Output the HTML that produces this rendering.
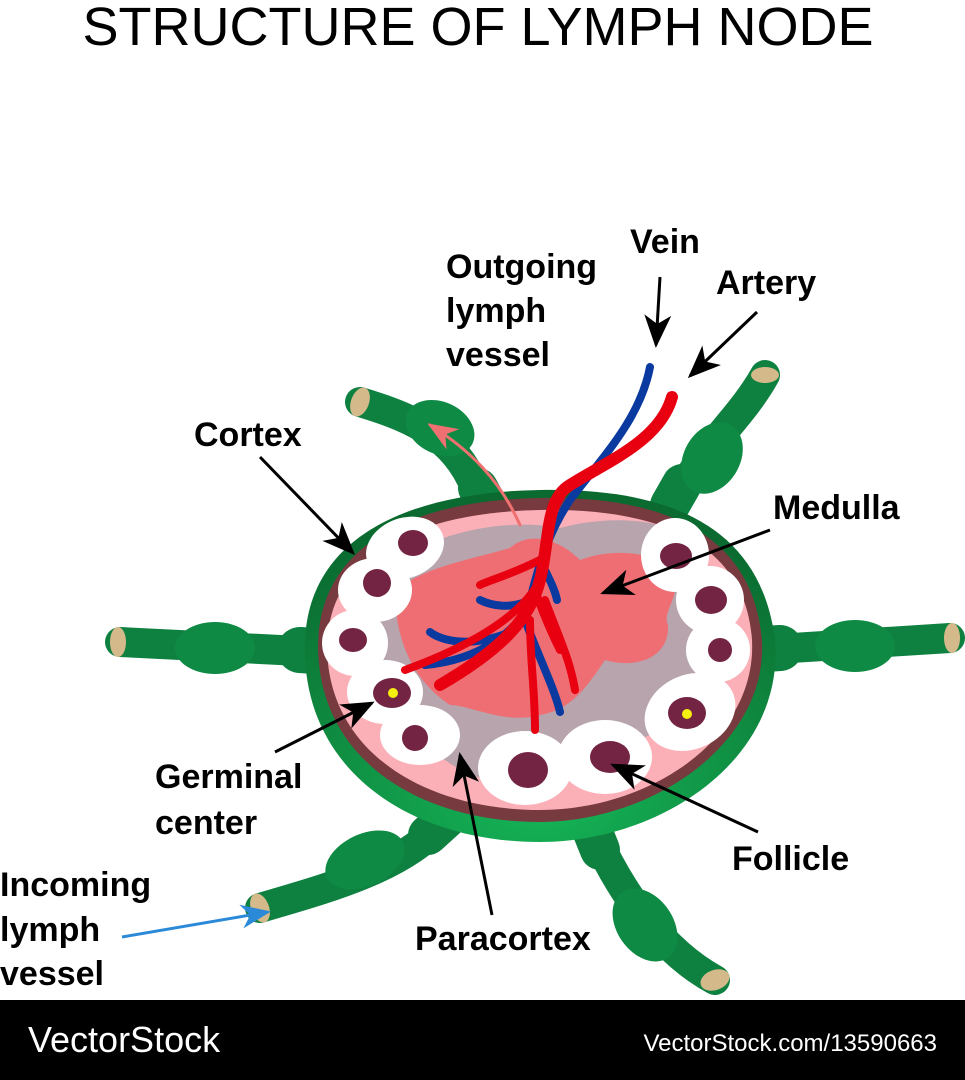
<!DOCTYPE html>
<html><head><style>
html,body{margin:0;padding:0;background:#fff;}
svg{display:block;}
.l{font-family:"Liberation Sans",sans-serif;font-weight:bold;font-size:34px;fill:#000;}
</style></head><body>
<svg width="965" height="1080" viewBox="0 0 965 1080" xmlns="http://www.w3.org/2000/svg">
<defs>
<radialGradient id="g" cx="0.5" cy="0.85" r="0.8">
<stop offset="0" stop-color="#15b85a"/><stop offset="0.6" stop-color="#0f8a40"/><stop offset="1" stop-color="#0a6a30"/>
</radialGradient>
<marker id="ah" markerWidth="11" markerHeight="10" refX="10" refY="5" orient="auto" markerUnits="strokeWidth"><path d="M0,0.5 L11,5 L0,9.5 L3,5z" fill="#000"/></marker>
<marker id="ab" markerWidth="10" markerHeight="10" refX="9" refY="5" orient="auto" markerUnits="strokeWidth"><path d="M0,1 L10,5 L0,9 L3,5z" fill="#2a8ad8"/></marker>
<marker id="ap" markerWidth="10" markerHeight="10" refX="9" refY="5" orient="auto" markerUnits="strokeWidth"><path d="M0,1 L10,5 L0,9 L3,5z" fill="#ee7070"/></marker>
</defs>
<text x="478" y="45" text-anchor="middle" font-family="Liberation Sans,sans-serif" font-size="54" fill="#000">STRUCTURE OF LYMPH NODE</text>

<!-- vessels -->
<g stroke="#0e8040" stroke-linecap="round" fill="none">
<path d="M320,652 L120,642" stroke-width="30"/>
<path d="M760,650 L950,638" stroke-width="30"/>
<path d="M480,500 C460,440 420,420 360,402" stroke-width="30"/>
<path d="M680,495 C700,450 740,420 765,375" stroke-width="30"/>
<path d="M440,825 C400,870 320,890 260,908" stroke-width="30"/>
<path d="M595,835 C620,890 660,950 715,980" stroke-width="30"/>
</g>
<g stroke="#0e8040" stroke-linecap="round" fill="none">
<path d="M330,652 L300,650" stroke-width="46"/>
<path d="M750,650 L780,648" stroke-width="46"/>
<path d="M490,510 L478,488" stroke-width="40"/>
<path d="M670,505 L682,484" stroke-width="40"/>
<path d="M450,815 L428,835" stroke-width="40"/>
<path d="M590,825 L600,850" stroke-width="40"/>
</g>
<g fill="#0f8a45">
<ellipse cx="215" cy="648" rx="40" ry="26"/>
<ellipse cx="855" cy="646" rx="40" ry="26"/>
<ellipse cx="440" cy="428" rx="36" ry="26" transform="rotate(25 440 428)"/>
<ellipse cx="712" cy="458" rx="28" ry="38" transform="rotate(30 712 458)"/>
<ellipse cx="365" cy="860" rx="42" ry="26" transform="rotate(-25 365 860)"/>
<ellipse cx="645" cy="925" rx="28" ry="40" transform="rotate(-35 645 925)"/>
</g>
<g fill="#d4b98a">
<ellipse cx="118" cy="642" rx="8" ry="15"/>
<ellipse cx="952" cy="638" rx="8" ry="15"/>
<ellipse cx="360" cy="402" rx="9" ry="15" transform="rotate(20 360 402)"/>
<ellipse cx="765" cy="375" rx="14" ry="8"/>
<ellipse cx="260" cy="908" rx="9" ry="15" transform="rotate(-20 260 908)"/>
<ellipse cx="715" cy="980" rx="15" ry="10" transform="rotate(-20 715 980)"/>
</g>

<!-- node -->
<path d="M540,490 C660,488 760,520 775,640 C785,760 660,842 540,842 C410,842 300,770 305,640 C310,530 420,492 540,490Z" fill="url(#g)"/>
<path d="M540,498 C650,496 752,525 762,640 C768,745 650,822 540,822 C420,822 318,760 318,645 C320,540 420,500 540,498Z" fill="#773a3e"/>
<path d="M540,510 C645,508 745,535 752,640 C757,740 648,810 540,810 C425,810 327,752 327,645 C330,550 425,512 540,510Z" fill="#fbb0b8"/>
<path d="M405,555 C460,525 520,520 560,528 C620,512 690,520 705,560 C725,600 715,640 705,680 C695,720 640,745 600,748 C560,765 520,790 470,775 C430,755 395,720 385,680 C372,640 378,585 405,555Z" fill="#b7a4ad"/>
<path d="M395,590 C430,565 470,560 510,548 C530,530 560,540 580,560 C610,548 650,552 665,565 C690,590 660,610 668,625 C670,655 640,670 605,660 C585,690 570,710 540,715 C505,725 470,705 450,705 C420,685 395,650 395,590Z" fill="#ef6e74"/>

<!-- follicles -->
<g fill="#fff">
<ellipse cx="405" cy="548" rx="40" ry="30" transform="rotate(-20 405 548)"/>
<ellipse cx="375" cy="590" rx="37" ry="32"/>
<ellipse cx="355" cy="643" rx="33" ry="33"/>
<ellipse cx="385" cy="692" rx="38" ry="32"/>
<ellipse cx="420" cy="735" rx="40" ry="30"/>
<ellipse cx="525" cy="768" rx="47" ry="37"/>
<ellipse cx="605" cy="757" rx="47" ry="37"/>
<ellipse cx="690" cy="712" rx="47" ry="37" transform="rotate(-25 690 712)"/>
<ellipse cx="675" cy="555" rx="34" ry="37"/>
<ellipse cx="710" cy="600" rx="34" ry="34"/>
<ellipse cx="718" cy="650" rx="32" ry="32"/>
</g>
<g fill="#742443">
<ellipse cx="413" cy="543" rx="15" ry="13"/>
<ellipse cx="377" cy="583" rx="14" ry="14"/>
<ellipse cx="353" cy="640" rx="14" ry="12"/>
<ellipse cx="392" cy="693" rx="19" ry="15"/>
<ellipse cx="415" cy="738" rx="13" ry="13"/>
<ellipse cx="528" cy="770" rx="20" ry="18"/>
<ellipse cx="610" cy="757" rx="20" ry="16"/>
<ellipse cx="687" cy="713" rx="19" ry="16"/>
<ellipse cx="676" cy="556" rx="16" ry="13"/>
<ellipse cx="711" cy="600" rx="16" ry="14"/>
<ellipse cx="720" cy="650" rx="12" ry="12"/>
</g>
<circle cx="393" cy="693" r="5" fill="#f5f010"/>
<circle cx="687" cy="714" r="5" fill="#f5f010"/>

<g fill="none" stroke-linecap="round">
<path d="M650,367 C640,420 600,460 570,500 C550,530 540,560 530,600" stroke="#0a3aa0" stroke-width="8"/>
<path d="M530,600 C520,630 480,660 425,665 M530,600 C510,610 490,605 480,600 M540,560 C550,580 555,590 557,600 M525,620 C540,660 555,690 560,712 M515,630 C470,650 440,640 430,632" stroke="#0a3aa0" stroke-width="8"/>
<path d="M672,397 C660,440 610,460 570,485 C545,500 550,540 540,580 C530,620 500,650 440,685" stroke="#e80010" stroke-width="12"/>
<path d="M540,580 C520,620 460,650 405,670 M540,560 C510,575 490,580 480,585 M535,590 C545,620 555,640 560,650 M530,620 C530,660 535,690 535,730 M545,600 C560,640 570,660 575,690" stroke="#e80010" stroke-width="8"/>
<path d="M520,525 C500,480 470,450 430,425" stroke="#ee7070" stroke-width="3" marker-end="url(#ap)"/>
</g>

<g stroke="#000" stroke-width="3" fill="none">
<path d="M660,277 L656,345" marker-end="url(#ah)"/>
<path d="M757,312 L690,376" marker-end="url(#ah)"/>
<path d="M260,457 L353,553" marker-end="url(#ah)"/>
<path d="M770,530 L603,593" marker-end="url(#ah)"/>
<path d="M275,752 L372,703" marker-end="url(#ah)"/>
<path d="M758,832 L613,765" marker-end="url(#ah)"/>
<path d="M492,915 L460,755" marker-end="url(#ah)"/>
</g>
<path d="M122,937 L268,912" stroke="#2a8ad8" stroke-width="3" fill="none" marker-end="url(#ab)"/>

<text class="l" x="446" y="278">Outgoing</text>
<text class="l" x="446" y="322">lymph</text>
<text class="l" x="446" y="366">vessel</text>
<text class="l" x="630" y="253">Vein</text>
<text class="l" x="716" y="294">Artery</text>
<text class="l" x="194" y="446">Cortex</text>
<text class="l" x="773" y="519">Medulla</text>
<text class="l" x="155" y="788">Germinal</text>
<text class="l" x="155" y="834">center</text>
<text class="l" x="732" y="870">Follicle</text>
<text class="l" x="415" y="950">Paracortex</text>
<text class="l" x="0" y="896">Incoming</text>
<text class="l" x="0" y="941">lymph</text>
<text class="l" x="0" y="985">vessel</text>

<rect x="0" y="1000" width="965" height="80" fill="#000"/>
<text x="28" y="1052" font-family="Liberation Sans,sans-serif" font-size="36" fill="#fff">VectorStock</text>
<text x="937" y="1051" text-anchor="end" font-family="Liberation Sans,sans-serif" font-size="24" fill="#fff">VectorStock.com/13590663</text>
</svg>
</body></html>
